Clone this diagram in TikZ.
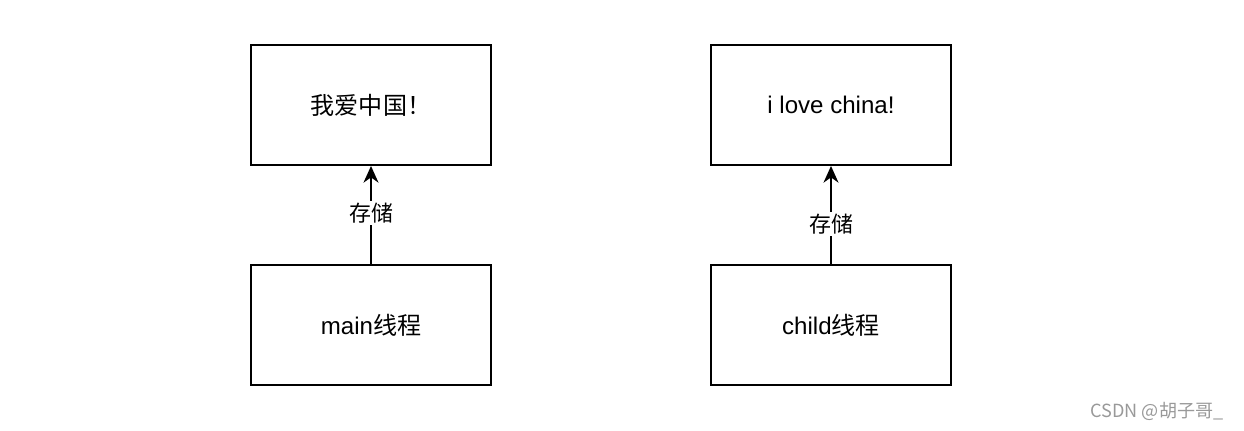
\documentclass[tikz,border=0pt]{standalone}
\usepackage{fontspec}
\setmainfont{Liberation Sans}
\newfontfamily\cjk{Noto Sans CJK SC}
\usetikzlibrary{arrows.meta}
\begin{document}
\begin{tikzpicture}[x=0.02cm,y=-0.02cm,
  box/.style={draw,line width=1.1pt,minimum width=4.8cm,minimum height=2.4cm,inner sep=0pt,font=\fontsize{13.7}{16}\selectfont},
  conn/.style={line width=1.1pt,-{Stealth[length=9.5pt,width=8.5pt,inset=3pt]}},
  lbl/.style={fill=white,inner sep=1pt,font=\fontsize{12.5}{15}\selectfont\cjk}]
\useasboundingbox (0,0) rectangle (1244,430);
\node[box] (t1) at (371,105) {\cjk 我爱中国！};
\node[box] (b1) at (371,325) {main{\cjk 线程}};
\node[box] (t2) at (831,105) {i love china!};
\node[box] (b2) at (831,325) {child{\cjk 线程}};
\draw[conn] (b1.north) -- node[lbl,pos=0.52] {存储} (t1.south);
\draw[conn] (b2.north) -- node[lbl,pos=0.41] {存储} (t2.south);
\node[text=gray!80,font=\fontsize{10.3}{12}\selectfont\cjk] (wm) at (1157,411) {CSDN @胡子哥\_};
\end{tikzpicture}
\end{document}
